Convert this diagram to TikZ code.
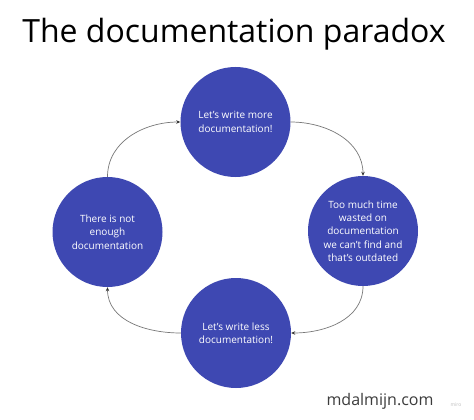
\documentclass[tikz,border=0pt]{standalone}
\usepackage{fontspec}
\setmainfont{Open Sans}
\usetikzlibrary{arrows.meta}
\definecolor{circblue}{RGB}{62,72,178}
\definecolor{linegray}{RGB}{120,120,120}
\definecolor{urlgray}{RGB}{60,60,60}
\begin{document}
\begin{tikzpicture}[x=1pt,y=-1pt,
  circ/.style={circle, fill=circblue, minimum size=110pt, inner sep=0pt, text=white, align=center,
     font=\fontsize{10}{13.3}\selectfont},
  conn/.style={draw=linegray, line width=0.7pt, -{Stealth[length=4pt,width=3.5pt,color=black!80]}}]
\useasboundingbox (0,0) rectangle (474,420);
\fill[white] (0,0) rectangle (474,420);
\node (title) at (234,34) {\fontsize{32}{38}\selectfont The documentation paradox};
\node[circ] (top) at (235.5,122) {Let's write more\\documentation!};
\node[circ] (right) at (363,231) {Too much time\\wasted on\\documentation\\we can't find and\\that's outdated};
\node[circ] (bottom) at (236,333) {Let's write less\\documentation!};
\node[circ] (left) at (107.5,232) {There is not\\enough\\documentation};
\draw[conn] (top.east) to[out=0,in=90] (right.north);
\draw[conn] (right.south) to[out=-90,in=0] (bottom.east);
\draw[conn] (bottom.west) to[out=180,in=-90] (left.south);
\draw[conn] (left.north) to[out=90,in=180] (top.west);
\node[text=urlgray, anchor=base] (url) at (380,405) {\fontsize{16}{19}\selectfont mdalmijn.com};
\node[text=black!25, anchor=base] (miro) at (456,406) {\fontsize{5}{6}\selectfont miro};
\end{tikzpicture}
\end{document}
